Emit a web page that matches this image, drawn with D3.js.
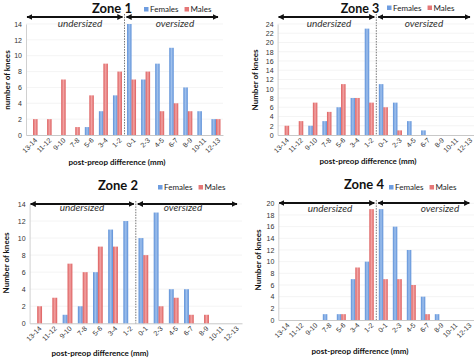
<!DOCTYPE html>
<html><head><meta charset="utf-8">
<script src="https://cdn.jsdelivr.net/npm/d3@7"></script>
<style>
body{margin:0;background:#fff;}
svg{display:block;font-family:Lato,"Open Sans",sans-serif;}
</style></head><body>
<svg id="c" width="474" height="360"></svg>
<script>
const categories = ["13-14","11-12","9-10","7-8","5-6","3-4","1-2","0-1","2-3","4-5","6-7","8-9","10-11","12-13"];
const seriesNames = ["Females","Males"];
const zone1Females = [0,0,0,0,1,3,5,14,7,9,11,6,3,2];
const zone1Males   = [2,2,7,1,5,9,8,7,8,3,4,3,0,2];
const zone2Females = [0,0,1,2,6,11,12,10,13,4,4,0,0,0];
const zone2Males   = [2,3,7,6,9,9,0,8,2,3,1,1,0,0];
const zone3Females = [0,0,2,3,6,8,23,11,7,3,1,0,0,0];
const zone3Males   = [2,3,7,5,11,8,7,6,1,0,0,0,0,0];
const zone4Females = [0,0,0,1,1,7,10,19,16,12,4,1,0,0];
const zone4Males   = [0,0,0,0,1,9,19,7,7,6,1,0,0,0];
const zoneTitles = ["Zone 1","Zone 3","Zone 2","Zone 4"];
const yMaxima = [14,24,14,20];
const yTitles = ["number of knees","Number of knees","Number of knees","Number of knees"];
const xTitle = "post-preop difference (mm)";

const svg = d3.select("#c");
const defs = svg.append("defs");
function grad(id, c1, c2){
  const g = defs.append("linearGradient").attr("id",id).attr("x1","0").attr("x2","1").attr("y1","0").attr("y2","0");
  g.append("stop").attr("offset","0").attr("stop-color",c1);
  g.append("stop").attr("offset","0.5").attr("stop-color",c2);
  g.append("stop").attr("offset","1").attr("stop-color",c1);
}
grad("gF","#5b8fd8","#9fc0ec");
grad("gM","#dc5c5c","#f2a3a3");
const fills = ["url(#gF)","url(#gM)"];
const legendColors = ["#6e9de0","#e57777"];
defs.append("marker").attr("id","ah").attr("viewBox","0 0 10 10").attr("refX",9).attr("refY",5)
  .attr("markerWidth",3.2).attr("markerHeight",3.2).attr("orient","auto-start-reverse")
  .append("path").attr("d","M0,0L10,5L0,10z").attr("fill","#111");

const layouts = [
  {x0:26, x1:223, yT:24, yB:135, titleX:112, titleY:12.5, tSize:13, legX:144, legY:9, arrowY:17, underX:80, overX:175, labY:27, yTitleX:7, yTitleY:80, xTitleX:117, xTitleY:165},
  {x0:277.6, x1:475, yT:24, yB:135, titleX:360, titleY:12.5, tSize:12.5, legX:387, legY:7.5, arrowY:17, underX:329, overX:424, labY:27, yTitleX:255, yTitleY:80, xTitleX:368, xTitleY:164},
  {x0:29.6, x1:242, yT:204, yB:323.3, titleX:118, titleY:190, tSize:13, legX:158, legY:187, arrowY:204, underX:82, overX:183, labY:211, yTitleX:6, yTitleY:263, xTitleX:100, xTitleY:356},
  {x0:278.3, x1:474.3, yT:203.3, yB:320, titleX:364, titleY:189, tSize:13, legX:389, legY:187, arrowY:203, underX:330, overX:440, labY:212, yTitleX:258, yTitleY:260, xTitleX:360, xTitleY:354}
];
const zoneData = [[zone1Females,zone1Males],[zone3Females,zone3Males],[zone2Females,zone2Males],[zone4Females,zone4Males]];

layouts.forEach((L,i)=>{
  const g = svg.append("g");
  const x = d3.scaleBand().domain(categories).range([L.x0,L.x1]).paddingInner(0.36).paddingOuter(0.18);
  const xs = d3.scaleBand().domain(seriesNames).range([0,x.bandwidth()]);
  const y = d3.scaleLinear().domain([0,yMaxima[i]]).range([L.yB,L.yT]);
  const ticks = d3.range(0,yMaxima[i]+1,2);
  g.selectAll(".gl").data(ticks.slice(1)).join("line")
    .attr("x1",L.x0).attr("x2",L.x1).attr("y1",d=>y(d)).attr("y2",d=>y(d))
    .attr("stroke","#ececec").attr("stroke-width",0.6);
  const ya = g.append("g").attr("transform",`translate(${L.x0},0)`)
    .call(d3.axisLeft(y).tickValues(ticks).tickSize(0).tickPadding(4));
  ya.select(".domain").attr("stroke","#d0d0d0");
  ya.selectAll("text").attr("font-size",7).attr("fill","#333");
  const xa = g.append("g").attr("transform",`translate(0,${L.yB})`)
    .call(d3.axisBottom(x).tickSize(0).tickPadding(4));
  xa.select(".domain").attr("stroke","#c8c8c8");
  xa.selectAll("text").attr("font-size",7).attr("fill","#333")
    .attr("text-anchor","end").attr("dx","-0.1em").attr("dy","0.5em")
    .attr("transform","rotate(-45)");
  seriesNames.forEach((s,si)=>{
    g.selectAll(".b"+si).data(zoneData[i][si]).join("rect")
      .attr("x",(d,k)=>x(categories[k])+xs(s))
      .attr("width",xs.bandwidth())
      .attr("y",d=>y(d)).attr("height",d=>y(0)-y(d))
      .attr("fill",fills[si]);
  });
  const divX = (x("1-2")+x.bandwidth()+x("0-1"))/2;
  g.append("line").attr("x1",divX).attr("x2",divX).attr("y1",L.arrowY-3).attr("y2",L.yB)
    .attr("stroke","#666").attr("stroke-width",0.9).attr("stroke-dasharray","1.5,1.2");
  [[L.x0+1, divX-2],[divX+2, L.x1-5]].forEach(([a,b])=>{
    g.append("line").attr("x1",a).attr("x2",b).attr("y1",L.arrowY).attr("y2",L.arrowY)
      .attr("stroke","#111").attr("stroke-width",1.8)
      .attr("marker-start","url(#ah)").attr("marker-end","url(#ah)");
  });
  g.append("text").attr("x",L.underX).attr("y",L.labY).attr("text-anchor","middle")
    .attr("font-size",10).attr("font-style","italic").attr("fill","#333").text("undersized");
  g.append("text").attr("x",L.overX).attr("y",L.labY).attr("text-anchor","middle")
    .attr("font-size",10).attr("font-style","italic").attr("fill","#333").text("oversized");
  g.append("text").attr("x",L.titleX).attr("y",L.titleY).attr("text-anchor","middle")
    .attr("font-size",L.tSize).attr("font-weight","bold").attr("fill","#111").text(zoneTitles[i]);
  let lx = L.legX;
  seriesNames.forEach((s,si)=>{
    g.append("rect").attr("x",lx).attr("y",L.legY-2).attr("width",4.5).attr("height",4.5).attr("fill",legendColors[si]);
    const t = g.append("text").attr("x",lx+6).attr("y",L.legY+3).attr("font-size",8).attr("fill","#222").text(s);
    lx += 6 + t.node().getComputedTextLength() + 6;
  });
  g.append("text").attr("transform",`translate(${L.yTitleX},${L.yTitleY}) rotate(-90)`)
    .attr("text-anchor","middle").attr("dy","0.35em").attr("font-size",8).attr("font-weight","bold").attr("fill","#111").text(yTitles[i]);
  g.append("text").attr("x",L.xTitleX).attr("y",L.xTitleY).attr("text-anchor","middle")
    .attr("font-size",8).attr("font-weight","bold").attr("fill","#111").text(xTitle);
});
</script></body></html>
